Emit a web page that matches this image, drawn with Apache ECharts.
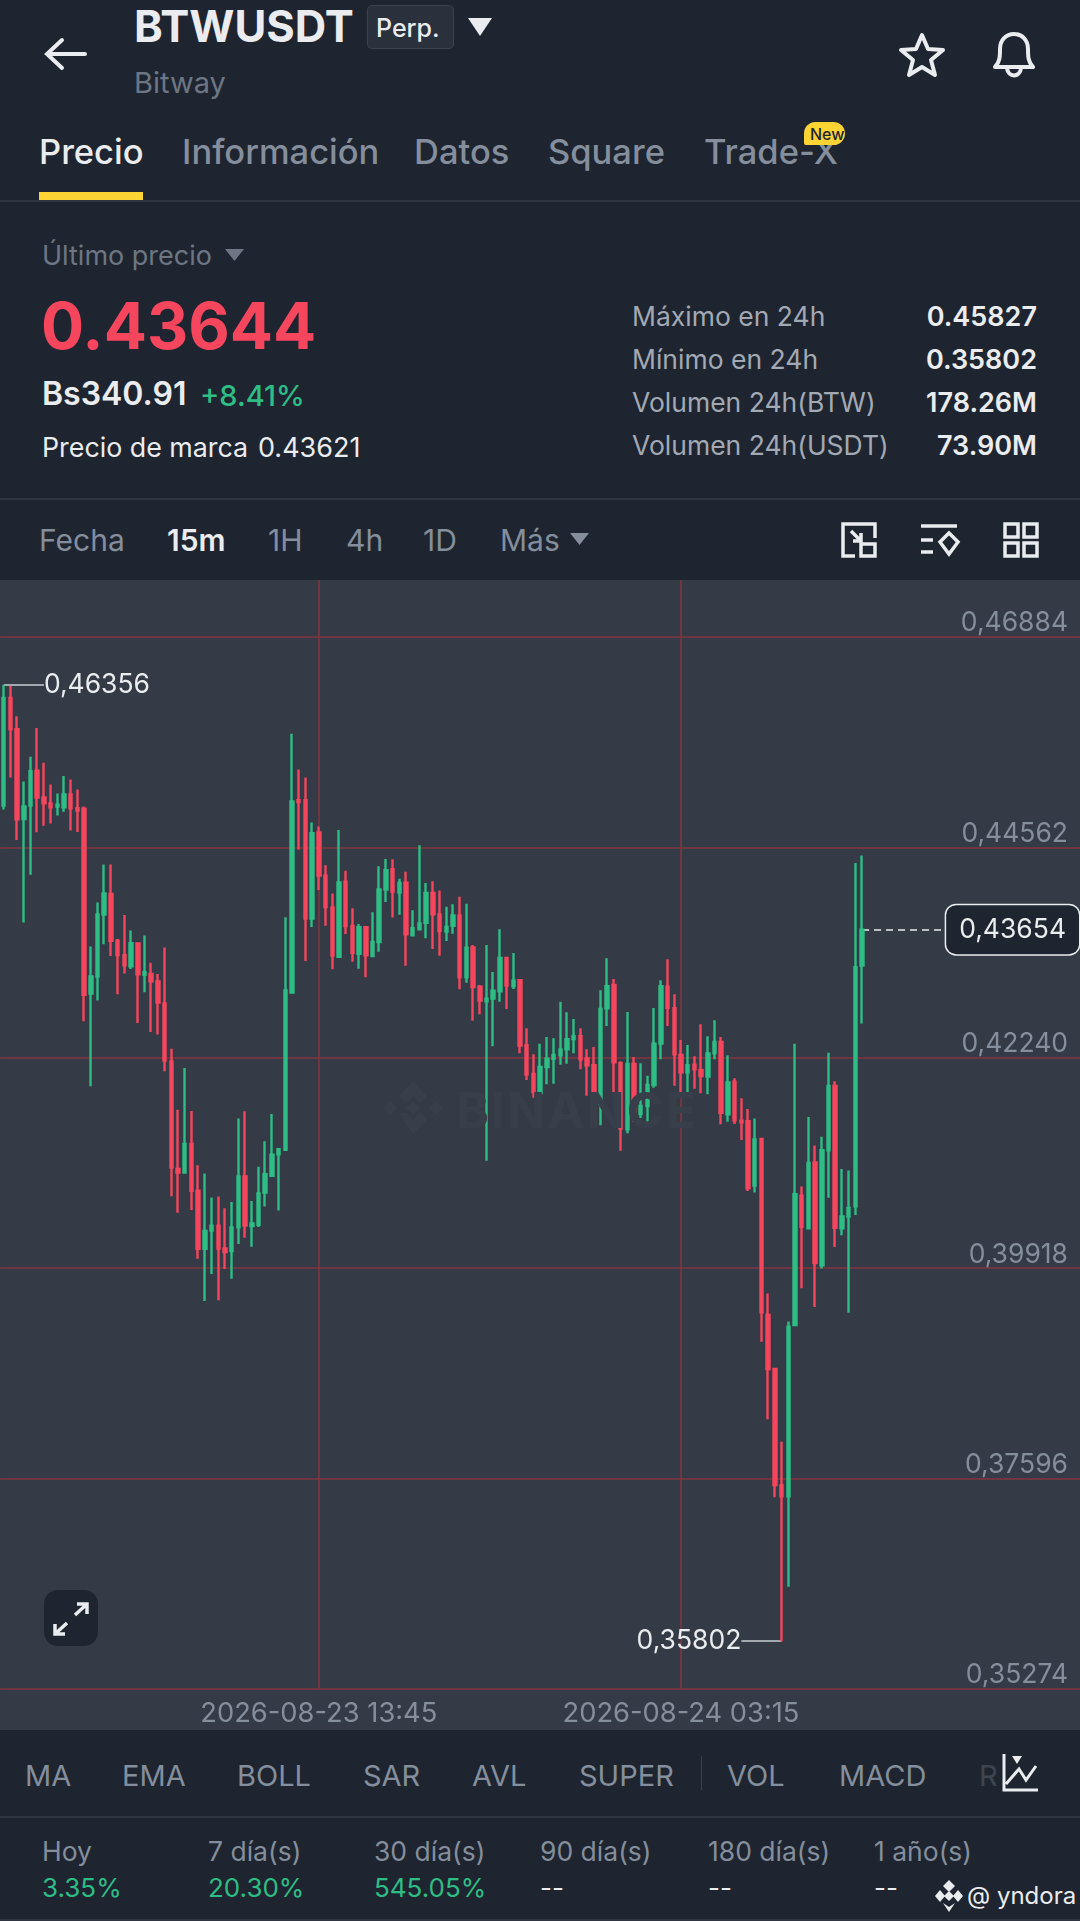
<!DOCTYPE html>
<html><head><meta charset="utf-8">
<script src="https://cdn.jsdelivr.net/npm/echarts@6/dist/echarts.min.js"></script>
<style>
html,body{margin:0;padding:0;background:#1E2530;width:1080px;height:1921px;overflow:hidden;font-family:Inter,"Noto Sans",sans-serif;}
.t{position:absolute;white-space:nowrap;transform:translateY(-50%);line-height:1;}
.r{transform:translate(-100%,-50%);}
.hr{position:absolute;left:0;width:1080px;height:2px;background:#2F3641;}
svg{position:absolute;overflow:visible;}
#chart{position:absolute;left:0;top:580px;width:1080px;height:1150px;background:#353B46;}
.g{color:#848E9C}.w{color:#EAECEF}.up{color:#2EBD85}
</style></head><body>
<!-- header -->
<svg style="left:45px;top:38px" width="42" height="32" fill="none" stroke="#EAECEF" stroke-width="4" stroke-linecap="round"><path d="M2 16H40M17 2L2 16L17 30"/></svg>
<div class="t w" style="left:134px;top:27px;font-size:43.5px;font-weight:700">BTWUSDT</div>
<div style="position:absolute;left:367px;top:5px;width:85px;height:42px;background:#2A313D;border:1px solid #3B4350;border-radius:5px"></div>
<div class="t w" style="left:376px;top:28px;font-size:25px;font-weight:500">Perp.</div>
<svg style="left:468px;top:18px" width="24" height="18"><path d="M0 0H24L12 18Z" fill="#EAECEF"/></svg>
<div class="t" style="left:134px;top:82px;font-size:29px;color:#6D7684">Bitway</div>
<svg style="left:899px;top:32px" width="46" height="46" fill="none" stroke="#EAECEF" stroke-width="4" stroke-linejoin="round"><path d="M23 3L29 17L44 18L32 28L36 43L23 35L10 43L14 28L2 18L17 17Z"/></svg>
<svg style="left:992px;top:32px" width="44" height="46" fill="none" stroke="#EAECEF" stroke-width="4" stroke-linejoin="round"><path d="M3 35C8 30 8 24 8 17C8 8 14 2 22 2C30 2 36 8 36 17C36 24 36 30 41 35Z M15 36C16 46 28 46 29 36"/></svg>
<!-- tabs -->
<div class="t" style="left:39px;top:152px;font-size:34.5px;font-weight:500;color:#EAECEF">Precio</div>
<div class="t g" style="left:182px;top:152px;font-size:34.5px;font-weight:500">Información</div>
<div class="t g" style="left:414px;top:152px;font-size:34.5px;font-weight:500">Datos</div>
<div class="t g" style="left:548px;top:152px;font-size:34.5px;font-weight:500">Square</div>
<div class="t g" style="left:704px;top:152px;font-size:34.5px;font-weight:500">Trade-X</div>
<div style="position:absolute;left:804px;top:122px;width:41px;height:23px;border-radius:12px 12px 12px 2px;background:#FCD535"></div>
<div class="t" style="left:810px;top:134px;font-size:16px;font-weight:500;color:#1E2530">New</div>
<div style="position:absolute;left:39px;top:192px;width:104px;height:8px;background:#FCD535"></div>
<div class="hr" style="top:200px"></div>
<!-- price block -->
<div class="t" style="left:42px;top:255px;font-size:27px;color:#6D7684">Último precio</div>
<svg style="left:225px;top:249px" width="19" height="12"><path d="M0 0H19L9.5 12Z" fill="#6D7684"/></svg>
<div class="t" style="left:41px;top:326px;font-size:64px;font-weight:700;color:#F6465D">0.43644</div>
<div class="t w" style="left:42px;top:394px;font-size:32px;font-weight:600">Bs340.91</div>
<div class="t up" style="left:200px;top:395px;font-size:29px;font-weight:500">+8.41%</div>
<div class="t w" style="left:42px;top:447px;font-size:26.8px">Precio de marca</div>
<div class="t w" style="left:258px;top:447px;font-size:27px">0.43621</div>
<div class="t" style="left:632px;top:316px;font-size:26.5px;color:#A3A9B4">Máximo en 24h</div>
<div class="t" style="left:632px;top:359px;font-size:26.5px;color:#A3A9B4">Mínimo en 24h</div>
<div class="t" style="left:632px;top:402px;font-size:26.5px;color:#A3A9B4">Volumen 24h(BTW)</div>
<div class="t" style="left:632px;top:445px;font-size:26.5px;color:#A3A9B4">Volumen 24h(USDT)</div>
<div class="t r w" style="left:1037px;top:316px;font-size:27px;font-weight:600">0.45827</div>
<div class="t r w" style="left:1037px;top:359px;font-size:27px;font-weight:600">0.35802</div>
<div class="t r w" style="left:1037px;top:402px;font-size:27px;font-weight:600">178.26M</div>
<div class="t r w" style="left:1037px;top:445px;font-size:27px;font-weight:600">73.90M</div>
<div class="hr" style="top:498px"></div>
<!-- timeframe -->
<div class="t g" style="left:39px;top:540px;font-size:30px">Fecha</div>
<div class="t w" style="left:167px;top:540px;font-size:30px;font-weight:600">15m</div>
<div class="t g" style="left:268px;top:540px;font-size:30px">1H</div>
<div class="t g" style="left:346px;top:540px;font-size:30px">4h</div>
<div class="t g" style="left:423px;top:540px;font-size:30px">1D</div>
<div class="t g" style="left:500px;top:540px;font-size:30px">Más</div>
<svg style="left:570px;top:533px" width="19" height="12"><path d="M0 0H19L9.5 12Z" fill="#848E9C"/></svg>
<svg style="left:841px;top:522px" width="36" height="36" fill="none" stroke="#EAECEF" stroke-width="3.5"><path d="M14 34H2V2H34V16M20 22H34V34H20Z M10 9L20 19M20 11V19H12"/></svg>
<svg style="left:921px;top:522px" width="38" height="36" fill="none" stroke="#EAECEF" stroke-width="3.5"><path d="M0 4H36M0 18H12M0 30H12M28 11L37 20L28 32L19 20Z"/></svg>
<svg style="left:1003px;top:522px" width="36" height="36" fill="none" stroke="#EAECEF" stroke-width="3.5"><path d="M2 2H15V15H2ZM21 2H34V15H21ZM2 21H15V34H2ZM21 21H34V34H21Z"/></svg>
<!-- chart -->
<div id="chart"></div>
<svg style="left:383px;top:1078px;opacity:.4" width="60" height="60" fill="#3F4550"><path d="M30 4L44 18L37 25L30 18L23 25L16 18ZM7 23L14 30L7 37L0 30ZM53 23L60 30L53 37L46 30ZM30 23L37 30L30 37L23 30ZM16 35L23 35L30 42L37 35L44 42L30 56Z"/></svg>
<div class="t" style="left:456px;top:1110px;font-size:50px;font-weight:700;letter-spacing:2px;color:#393F4A">BINANCE</div>
<div style="position:absolute;left:44px;top:1590px;width:54px;height:56px;border-radius:14px;background:#1E2530"></div>
<svg style="left:53px;top:1602px" width="36" height="34" fill="none" stroke="#EAECEF" stroke-width="3.5"><path d="M22 13L34 2M24 2H34V12M14 21L2 32M2 22V32H12"/></svg>
<!-- indicators -->
<div class="t g" style="left:25px;top:1775px;font-size:29px">MA</div>
<div class="t g" style="left:122px;top:1775px;font-size:29px">EMA</div>
<div class="t g" style="left:237px;top:1775px;font-size:29px">BOLL</div>
<div class="t g" style="left:363px;top:1775px;font-size:29px">SAR</div>
<div class="t g" style="left:472px;top:1775px;font-size:29px">AVL</div>
<div class="t g" style="left:579px;top:1775px;font-size:29px">SUPER</div>
<div style="position:absolute;left:701px;top:1756px;width:1px;height:34px;background:#3A424E"></div>
<div class="t g" style="left:727px;top:1775px;font-size:29px">VOL</div>
<div class="t g" style="left:839px;top:1775px;font-size:29px">MACD</div>
<div class="t" style="left:979px;top:1775px;font-size:29px;color:#3E4550">R</div>
<svg style="left:1002px;top:1752px" width="38" height="42" fill="none" stroke="#EAECEF" stroke-width="3"><path d="M2 2V38H36M4 32L17 17L24 28L34 14"/><path d="M10 4H20L15 12Z" fill="#EAECEF" stroke="none"/></svg>
<div class="hr" style="top:1816px"></div>
<!-- returns -->
<div class="t g" style="left:42px;top:1851px;font-size:26.5px">Hoy</div>
<div class="t g" style="left:208px;top:1851px;font-size:26.5px">7 día(s)</div>
<div class="t g" style="left:374px;top:1851px;font-size:26.5px">30 día(s)</div>
<div class="t g" style="left:540px;top:1851px;font-size:26.5px">90 día(s)</div>
<div class="t g" style="left:708px;top:1851px;font-size:26.5px">180 día(s)</div>
<div class="t g" style="left:874px;top:1851px;font-size:26.5px">1 año(s)</div>
<div class="t up" style="left:42px;top:1888px;font-size:26px">3.35%</div>
<div class="t up" style="left:208px;top:1888px;font-size:26px">20.30%</div>
<div class="t up" style="left:374px;top:1888px;font-size:26px">545.05%</div>
<div class="t w" style="left:540px;top:1888px;font-size:26px">--</div>
<div class="t w" style="left:708px;top:1888px;font-size:26px">--</div>
<div class="t w" style="left:874px;top:1888px;font-size:26px">--</div>
<svg style="left:935px;top:1880px" width="28" height="32" fill="#EAECEF"><path d="M14 0L20 6L14 12L8 6ZM5 10L10 16L5 22L0 16ZM23 10L28 16L23 22L18 16ZM14 11L19 16L14 21L9 16ZM8 23L14 27L20 23L14 32Z"/></svg>
<div class="t w" style="left:967px;top:1896px;font-size:24px">@ yndora</div>
<div class="hr" style="top:1919px"></div>
<script>
const opens=[45024,46211,45866,44876,45024,45408,45112,45048,45014,45004,45147,44994,44989,42950,43137,43822,44048,43531,43373,43250,43501,43156,43166,43083,42841,42201,41013,40974,41289,40772,40131,40333,40388,40136,40107,40368,40930,40383,40397,40752,40939,41176,41225,42959,45083,45083,43777,44728,44250,43900,43354,44184,43695,43389,43680,43363,43518,44096,44320,44063,44173,43592,43658,43731,44059,43823,43632,43698,43812,43128,43459,43025,42863,42893,42974,43341,43029,43095,42378,42061,41851,42138,42230,42267,42333,42447,42477,42234,42157,41730,42786,43043,42179,41450,42171,41620,41708,41940,42396,43025,42786,42271,42076,42164,42102,42032,42289,42414,41616,41977,41545,41539,40831,41344,39402,38806,37524,37400,39290,40718,40358,41085,39951,41220,41929,40358,40488,40600,43257];
const closes=[46211,45866,44871,45014,45403,45112,45048,45004,45034,45147,44994,44970,42935,43137,43822,44053,43531,43373,43260,43506,43161,43186,43083,42851,42210,41028,40974,41289,40772,40131,40328,40388,40136,40097,40368,40930,40388,40412,40742,40954,41171,41230,42984,45068,45063,43777,44718,44250,43905,43368,44176,43695,43400,43680,43371,43518,44099,44309,44074,44169,43603,43669,43724,44059,43823,43639,43684,43812,43128,43455,43021,42871,42893,42981,43341,43036,43091,42374,42054,41862,42138,42230,42271,42333,42444,42477,42223,42157,41730,42779,43029,42190,41458,42171,41627,41708,41940,42396,43029,42793,42278,42079,42157,42113,42039,42289,42414,41634,41969,41550,41527,40801,41338,39431,38806,37524,37400,39272,40736,40376,41079,39974,41220,41929,40364,40488,40583,43239,43654];
const lows=[44979,45334,44644,43733,44260,44728,44802,44827,44915,44955,44748,44733,42644,41925,42871,43492,43363,42940,43171,43220,42624,42964,42526,42496,42092,40713,40530,40964,40560,40023,39555,39855,39565,39910,39801,40186,40254,40156,40373,40599,40930,40555,41215,42959,44536,43309,43684,44093,43698,43216,43344,43606,43301,43224,43128,43363,43411,43960,43787,43820,43257,43584,43654,43558,43441,43367,43529,43610,42996,43069,42650,42720,41105,42367,42859,42779,42999,42289,41995,41800,41826,41947,41954,42164,42175,42289,42113,41822,41634,41495,42591,41862,41215,41406,41531,41575,41495,41910,42223,42591,41932,41796,41844,41899,41848,41837,42223,41506,41535,41509,41332,40771,40754,39107,38251,37389,35802,36403,39290,39697,40346,39490,39915,40695,40152,40282,39425,40506,42619];
const highs=[46356,46344,46009,45290,45561,45881,45497,45255,45157,45349,45310,45201,45014,43467,43955,44373,44373,43551,43817,43644,43506,43590,43289,43166,43457,42339,41668,42127,41654,41053,40964,40698,40708,40580,40649,41570,41649,40659,41038,41319,41619,41235,43792,45817,45423,45334,44837,44792,44364,44053,44753,44305,43890,43717,43680,43845,44353,44434,44430,44217,44294,43868,44585,44169,44188,44085,43908,43934,44018,43941,43485,43043,43485,43187,43658,43356,43397,43102,42565,42278,42396,42470,42455,42859,42742,42668,42565,42333,42359,42985,43338,43110,42201,42745,42249,42179,42043,42790,43095,43327,42940,42436,42381,42256,42609,42477,42653,42470,42267,42013,41793,41675,41569,41350,39638,38806,38002,39331,42395,40819,41586,41273,41368,42295,41982,41014,40996,44391,44473];
const priceTicks=[0.35274,0.37596,0.39918,0.42240,0.44562,0.46884];
const timeTicks=['2026-08-23 13:45','2026-08-24 03:15'];
const lastPrice=0.43654, highPrice=0.46356, lowPrice=0.35802;
const slotCount=161;
const categories=[];
for(let i=0,m=2*60;i<slotCount;i++,m+=15){
  const day=23+Math.floor(m/1440), mm=m%1440, p=n=>String(n).padStart(2,'0');
  categories.push('2026-08-'+p(day)+' '+p(Math.floor(mm/60))+':'+p(mm%60));
}
const candles=opens.map((o,i)=>[o/1e5,closes[i]/1e5,lows[i]/1e5,highs[i]/1e5]);
const fmt=v=>v.toFixed(5).replace('.',',');
const RED='#F6465D',GREEN='#2EBD85',GRID='#82363F';
const highIdx=0, lowIdx=116, lastIdx=candles.length-1;
const chart=echarts.init(document.getElementById('chart'),null,{renderer:'canvas'});
chart.setOption({
  animation:false,
  grid:{left:0.3,top:0,width:1081,height:1109},
  xAxis:{type:'category',data:categories,boundaryGap:true,
    axisLine:{show:false},axisTick:{show:false},splitLine:{show:false},
    axisLabel:{interval:(i,v)=>timeTicks.includes(v),color:'#848E9C',fontSize:27.3,fontFamily:'Inter',margin:11,hideOverlap:false}},
  yAxis:{type:'value',position:'right',min:0.35274,max:0.47513,scale:true,
    axisLine:{show:false},axisTick:{show:false,customValues:priceTicks},
    splitLine:{show:true,lineStyle:{color:GRID,width:1.5}},
    axisLabel:{inside:true,customValues:priceTicks,formatter:fmt,color:'#848E9C',fontSize:26.5,fontFamily:'Inter',margin:12,verticalAlign:'bottom',lineHeight:27}},
  series:[{type:'candlestick',data:candles,barWidth:3,
    itemStyle:{color:GREEN,color0:RED,borderColor:GREEN,borderColor0:RED,borderWidth:2.4},
    markLine:{silent:true,symbol:'none',z:1,label:{show:false},animation:false,data:[
      {xAxis:timeTicks[0],lineStyle:{color:GRID,width:1.5,type:'solid'}},
      {xAxis:timeTicks[1],lineStyle:{color:GRID,width:1.5,type:'solid'}},
      [{coord:[highIdx,highPrice],lineStyle:{color:'#C9CDD3',width:1.5,type:'solid'}},{coord:[6,highPrice]}],
      [{coord:[lowIdx,lowPrice],lineStyle:{color:'#C9CDD3',width:1.5,type:'solid'}},{coord:[110,lowPrice]}],
      [{coord:[lastIdx,lastPrice],lineStyle:{color:'#EAECEF',width:1.5,type:[7,5]}},{coord:[141,lastPrice]}]
    ]},
    markPoint:{silent:true,symbol:'circle',symbolSize:0,animation:false,data:[
      {coord:[6,highPrice],label:{show:true,position:'right',distance:0,offset:[0,0],formatter:fmt(highPrice),color:'#EAECEF',fontSize:26.5,fontFamily:'Inter'}},
      {coord:[110,lowPrice],label:{show:true,position:'left',distance:0,offset:[0,0],formatter:fmt(lowPrice),color:'#EAECEF',fontSize:26.5,fontFamily:'Inter'}},
      {coord:[150,lastPrice],label:{show:true,position:'inside',offset:[3,0],formatter:fmt(lastPrice),color:'#EAECEF',fontSize:26.5,fontFamily:'Inter',
        backgroundColor:'#1E2530',borderColor:'#EAECEF',borderWidth:1.5,borderRadius:10,padding:[11,13,11,13]}}
    ]}
  }]
});
</script>
</body></html>
